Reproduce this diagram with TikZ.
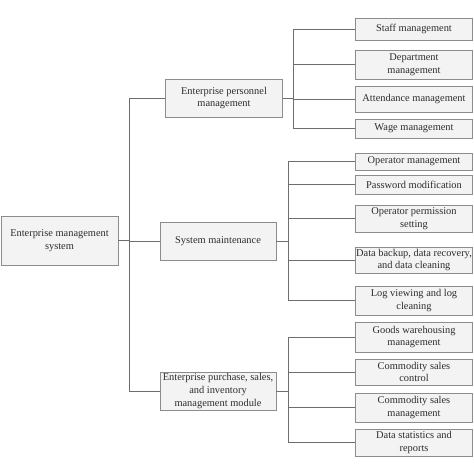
\documentclass[tikz,border=0pt]{standalone}
\usepackage{fontspec}
\setmainfont{Liberation Serif}
\usepackage{xcolor}
\usepackage{tikz}
\usetikzlibrary{positioning, calc}
\definecolor{boxfill}{RGB}{243,243,243}
\definecolor{boxline}{RGB}{140,140,140}
\definecolor{linkgray}{RGB}{110,110,110}
\definecolor{textgray}{RGB}{45,45,45}
\tikzset{
    box/.style={rectangle, draw=boxline, fill=boxfill, line width=0.9pt, align=center,
                text=textgray, inner sep=1pt, font=\fontsize{10.4}{12.7}\selectfont},
    mainbox/.style={box, minimum width=117pt, minimum height=38pt},
    leaf/.style={box, minimum width=117pt, minimum height=27pt},
    link/.style={draw=linkgray, line width=0.9pt}
}
\begin{document}
\begin{tikzpicture}[x=1pt, y=-1pt]
    \useasboundingbox (0,0) rectangle (474,474);

    % Root
    \node[box, minimum width=117pt, minimum height=49pt] (root) at (59.5,240.5)
        {Enterprise management\\system};

    % Modules
    \node[mainbox] (staffmod) at (224,98) {Enterprise personnel\\management};
    \node[mainbox, minimum width=116pt] (sysmod) at (218,241) {System maintenance};
    \node[mainbox, minimum width=116pt] (invmod) at (218,391)
        {Enterprise purchase, sales,\\and inventory\\management module};

    % Personnel functions
    \node[leaf, minimum height=22pt] (staff) at (414,29) {Staff management};
    \node[leaf, minimum height=29pt] (dept) at (414,64.5) {Department\\management};
    \node[leaf, minimum height=26pt] (attend) at (414,99) {Attendance management};
    \node[leaf, minimum height=19pt] (wage) at (414,128.5) {Wage management};

    % Maintenance functions
    \node[leaf, minimum height=17pt] (operator) at (414,161.5) {Operator management};
    \node[leaf, minimum height=19pt] (password) at (414,184.5) {Password modification};
    \node[leaf] (permission) at (414,218.5) {Operator permission\\setting};
    \node[leaf, minimum height=26pt] (backup) at (414,260) {Data backup, data recovery,\\and data cleaning};
    \node[leaf, minimum height=29pt] (logview) at (414,300.5) {Log viewing and log\\cleaning};

    % Inventory functions
    \node[leaf, minimum height=30pt] (goods) at (414,337) {Goods warehousing\\management};
    \node[leaf, minimum height=26pt] (salesctl) at (414,372) {Commodity sales\\control};
    \node[leaf, minimum height=29pt] (salesmgt) at (414,407.5) {Commodity sales\\management};
    \node[leaf] (reports) at (414,442.5) {Data statistics and\\reports};

    % Joints
    \coordinate (rootjoint) at (129,240.5);
    \coordinate (staffjoint) at (293,98);
    \coordinate (sysjoint) at (288,241);
    \coordinate (invjoint) at (288,391);

    % Connectors
    \draw[link] (root.east) -- (rootjoint);
    \foreach \m in {staffmod, sysmod, invmod}
        \draw[link] (rootjoint) |- (\m.west);
    \draw[link] (staffmod.east) -- (staffjoint);
    \foreach \f in {staff, dept, attend, wage}
        \draw[link] (staffjoint) |- (\f.west);
    \draw[link] (sysmod.east) -- (sysjoint);
    \foreach \f in {operator, password, permission, backup, logview}
        \draw[link] (sysjoint) |- (\f.west);
    \draw[link] (invmod.east) -- (invjoint);
    \foreach \f in {goods, salesctl, salesmgt, reports}
        \draw[link] (invjoint) |- (\f.west);
\end{tikzpicture}
\end{document}
